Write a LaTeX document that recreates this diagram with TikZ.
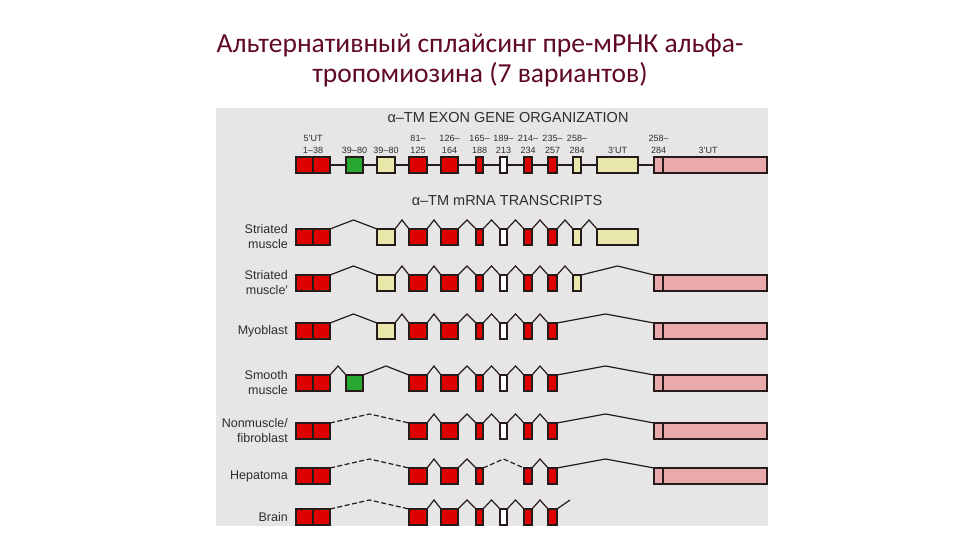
\documentclass[tikz,border=0pt]{standalone}
\usepackage{fontspec}
\setmainfont{Liberation Sans}
\newfontfamily\titlefont{Carlito}
\usetikzlibrary{calc}

\definecolor{exred}{RGB}{222,0,0}
\definecolor{exgreen}{RGB}{40,168,48}
\definecolor{exyellow}{RGB}{232,232,170}
\definecolor{expink}{RGB}{234,170,172}
\definecolor{panelgray}{RGB}{230,230,230}
\definecolor{titlered}{RGB}{96,8,38}
\definecolor{ink}{RGB}{38,26,26}
\definecolor{labelgray}{RGB}{45,45,45}

\tikzset{
  exon/.style={draw=ink, line width=1.4pt, minimum height=16pt, inner sep=0pt, outer sep=0pt},
  x1a/.style={exon, fill=exred, minimum width=17pt},
  x1b/.style={exon, fill=exred, minimum width=17pt},
  x2/.style={exon, fill=exgreen, minimum width=17pt},
  x3/.style={exon, fill=exyellow, minimum width=18pt},
  x4/.style={exon, fill=exred, minimum width=18pt},
  x5/.style={exon, fill=exred, minimum width=17pt},
  x6/.style={exon, fill=exred, minimum width=7pt},
  x7/.style={exon, fill=white, minimum width=7pt},
  x8/.style={exon, fill=exred, minimum width=8pt},
  x9/.style={exon, fill=exred, minimum width=9pt},
  x10/.style={exon, fill=exyellow, minimum width=8pt},
  x11/.style={exon, fill=exyellow, minimum width=41pt},
  x12a/.style={exon, fill=expink, minimum width=9pt},
  x12b/.style={exon, fill=expink, minimum width=104pt},
  intronline/.style={draw=ink, line width=1.2pt},
  skipped/.style={dash pattern=on 5pt off 2.5pt},
  intron/.style={to path={-- ($(\tikztostart)!0.5!(\tikztotarget)+(0,-9)$) -- (\tikztotarget)}},
  exlabel/.style={font=\fontsize{9}{10}\selectfont, text=labelgray, inner sep=0pt},
  rowlabel/.style={font=\fontsize{12.5}{15}\selectfont, text=labelgray, align=right, anchor=east, inner sep=0pt},
  head/.style={font=\fontsize{14.5}{16}\selectfont, text=labelgray, inner sep=0pt}
}

\begin{document}
\begin{tikzpicture}[x=1pt, y=-1pt]
  \useasboundingbox[fill=white] (0,0) rectangle (960,540);
  \fill[panelgray] (216,108) rectangle (768,526);

  % title
  \node[font=\titlefont\fontsize{27.5}{30}\selectfont, text=titlered, align=center] (title) at (480,60)
    {Альтернативный сплайсинг пре-мРНК альфа-\\тропомиозина (7 вариантов)};

  % exon organisation of the gene
  \node[head] (hgene) at (508,118) {α–TM EXON GENE ORGANIZATION};
  \foreach \e/\l in {1a/296,1b/313,2/346,3/377,4/409,5/441,6/476,7/500,8/524,9/548,10/573,11/597,12a/654,12b/663}
    \node[x\e, anchor=west] (g\e) at (\l,165) {};
  \foreach \a/\b in {1b/2,2/3,3/4,4/5,5/6,6/7,7/8,8/9,9/10,10/11,11/12a}
    \draw[intronline] (g\a) -- (g\b);
  \foreach \r/\t/\b [count=\i] in {g1a.east/5'UT/1--38, g2//39--80, g3//39--80, g4/81--/125, g5/126--/164,
      g6/165--/188, g7/189--/213, g8/214--/234, g9/235--/257, g10/258--/284, g11//3'UT, g12a/258--/284}
  {
    \node[exlabel] (lt\i) at (\r |- 0,138) {\t};
    \node[exlabel] (lb\i) at (\r |- 0,150) {\b};
  }
  \node[exlabel] (lb13) at ($(g12b.west |- 0,150)+(45,0)$) {3'UT};

  % transcripts
  \node[head] (hmrna) at (507,201) {α–TM mRNA TRANSCRIPTS};

  \node[rowlabel] (nsm) at (288,237) {Striated\\muscle};
  \foreach \e in {1a,1b,3,4,5,6,7,8,9,10,11}
    \node[x\e] (sm-\e) at (g\e |- 0,237) {};
  \foreach \a/\b in {1b/3,3/4,4/5,5/6,6/7,7/8,8/9,9/10,10/11}
    \draw[intronline] (sm-\a.north east) to[intron] (sm-\b.north west);

  \node[rowlabel] (nsp) at (288,283) {Striated\\muscle′};
  \foreach \e in {1a,1b,3,4,5,6,7,8,9,10,12a,12b}
    \node[x\e] (sp-\e) at (g\e |- 0,283) {};
  \foreach \a/\b in {1b/3,3/4,4/5,5/6,6/7,7/8,8/9,9/10,10/12a}
    \draw[intronline] (sp-\a.north east) to[intron] (sp-\b.north west);

  \node[rowlabel] (nmb) at (288,331) {Myoblast};
  \foreach \e in {1a,1b,3,4,5,6,7,8,9,12a,12b}
    \node[x\e] (mb-\e) at (g\e |- 0,331) {};
  \foreach \a/\b in {1b/3,3/4,4/5,5/6,6/7,7/8,8/9,9/12a}
    \draw[intronline] (mb-\a.north east) to[intron] (mb-\b.north west);

  \node[rowlabel] (nsa) at (288,383) {Smooth\\muscle};
  \foreach \e in {1a,1b,2,4,5,6,7,8,9,12a,12b}
    \node[x\e] (sa-\e) at (g\e |- 0,383) {};
  \foreach \a/\b in {1b/2,2/4,4/5,5/6,6/7,7/8,8/9,9/12a}
    \draw[intronline] (sa-\a.north east) to[intron] (sa-\b.north west);

  \node[rowlabel] (nnm) at (288,431) {Nonmuscle/\\fibroblast};
  \foreach \e in {1a,1b,4,5,6,7,8,9,12a,12b}
    \node[x\e] (nm-\e) at (g\e |- 0,431) {};
  \draw[intronline, skipped] (nm-1b.north east) to[intron] (nm-4.north west);
  \foreach \a/\b in {4/5,5/6,6/7,7/8,8/9,9/12a}
    \draw[intronline] (nm-\a.north east) to[intron] (nm-\b.north west);

  \node[rowlabel] (nhp) at (288,476) {Hepatoma};
  \foreach \e in {1a,1b,4,5,6,8,9,12a,12b}
    \node[x\e] (hp-\e) at (g\e |- 0,476) {};
  \draw[intronline, skipped] (hp-1b.north east) to[intron] (hp-4.north west);
  \draw[intronline, skipped] (hp-6.north east) to[intron] (hp-8.north west);
  \foreach \a/\b in {4/5,5/6,8/9,9/12a}
    \draw[intronline] (hp-\a.north east) to[intron] (hp-\b.north west);

  \node[rowlabel] (nbr) at (288,517) {Brain};
  \foreach \e in {1a,1b,4,5,6,7,8,9}
    \node[x\e] (br-\e) at (g\e |- 0,517) {};
  \draw[intronline, skipped] (br-1b.north east) to[intron] (br-4.north west);
  \foreach \a/\b in {4/5,5/6,6/7,7/8,8/9}
    \draw[intronline] (br-\a.north east) to[intron] (br-\b.north west);
  \coordinate (br-end) at (570,500);
  \draw[intronline] (br-9.north east) -- (br-end);
\end{tikzpicture}
\end{document}
